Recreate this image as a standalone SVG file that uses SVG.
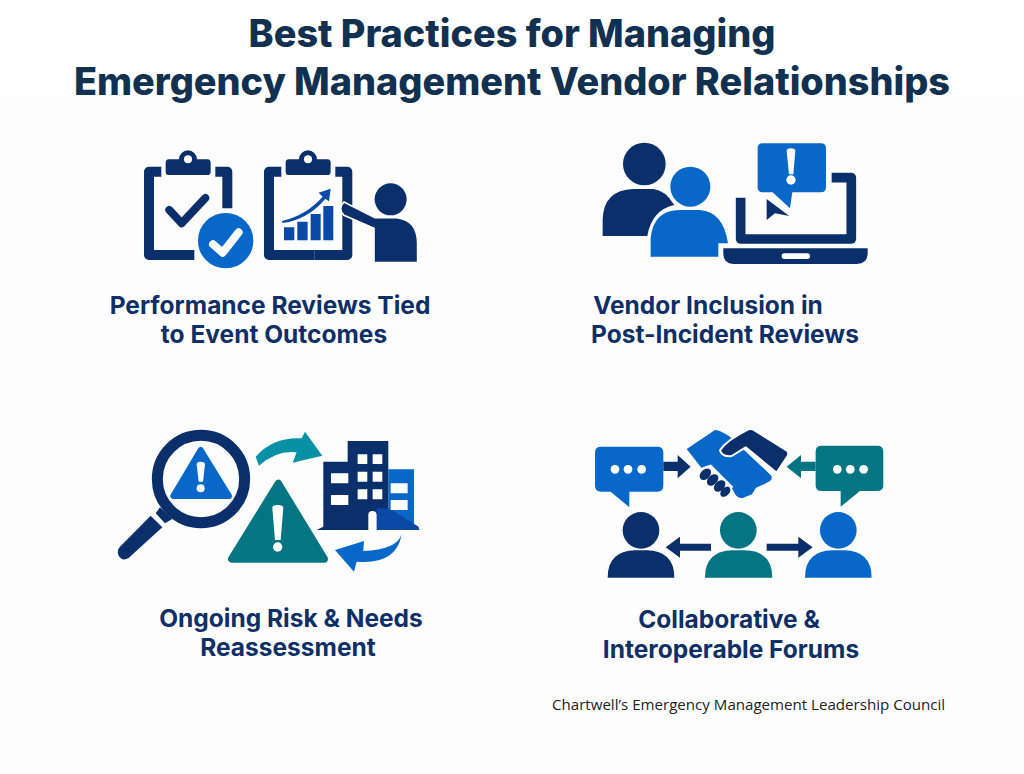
<svg xmlns="http://www.w3.org/2000/svg" width="1024" height="774" viewBox="0 0 1024 774">
<style>
.t{font-family:"Inter","Liberation Sans",sans-serif;font-weight:800;font-size:37.85px;fill:#12304f;text-anchor:middle}
.l{font-family:"Inter","Liberation Sans",sans-serif;font-weight:700;font-size:24.5px;fill:#0f2f66;text-anchor:middle}
.c{font-family:"Open Sans","Liberation Sans",sans-serif;font-size:15.1px;fill:#222;text-anchor:start}
.n{fill:#0b2f6b}.b{fill:#0868c9}.g{fill:#067583}.w{fill:#fff}
.sn{fill:none;stroke:#0b2f6b}
.k{fill:none;stroke-linecap:round;stroke-linejoin:round}
</style>
<defs>
<g id="clip">
<path class="sn" stroke-width="30" stroke-linejoin="round" d="M124,95H87V345H223"/>
<rect class="n" x="137" y="58" width="135" height="47" rx="10"/>
<circle class="n" cx="204" cy="58" r="27"/><circle class="w" cx="204" cy="58" r="12"/>
</g>
</defs>
<rect width="1024" height="774" fill="#fff"/>
<rect y="95" width="1024" height="679" fill="#fdfdfe"/>
<g id="title">
<text class="t" x="512" y="47">Best Practices for Managing</text>
<text class="t" x="512" y="95">Emergency Management Vendor Relationships</text>
</g>
<g id="performance-reviews">
<g transform="translate(120 140) scale(.3333)">
<use href="#clip"/>
<path class="sn" stroke-width="30" stroke-linejoin="round" d="M286,95H322V205"/>
<path class="k" stroke="#0b2f6b" stroke-width="24" d="M148,210L185,250L256,174"/>
<circle class="b" cx="317" cy="302" r="86" stroke="#fff" stroke-width="6"/>
<path class="k" stroke="#fff" stroke-width="24" d="M279,313L308,338L356,277"/>
<g transform="translate(360 0)"><use href="#clip"/>
<path class="sn" stroke-width="30" stroke-linejoin="round" d="M223,345H322V95H286"/></g>
<path fill="#0a4aa6" d="M492,262h31v39h-31zM532,245h31v56h-31zM572,222h30v79h-30zM610,198h30v103h-30z"/>
<path fill="#0a4aa6" d="M486,243Q560,225 608,170L596,158L632,146L627,184L616,176Q565,238 488,249Z"/>
<circle class="n" cx="812" cy="178" r="48"/>
<path class="n" stroke="#fff" stroke-width="5" d="M672,186L765,233H830Q893,240 893,310V368H762V265L672,226Q652,205 672,186Z"/>
</g>
<text class="l" x="270" y="314">Performance Reviews Tied</text>
<text class="l" x="274" y="343">to Event Outcomes</text>
</g>
<g id="vendor-inclusion">
<g transform="translate(590 135) scale(.3333)">
<circle class="n" cx="163" cy="87" r="64"/>
<path class="n" d="M38,303V255Q40,165 130,162H190Q225,165 253,210Q185,225 172,303Z"/>
<circle class="b" cx="301" cy="155" r="60"/>
<path class="b" d="M182,365V310Q190,225 270,225H330Q400,230 414,325H385V365Z"/>
<path class="sn" stroke-width="29" stroke-linejoin="round" d="M452,188V312H784V128H725"/>
<path class="n" d="M400,340H833V355Q833,387 800,387H430Q400,387 400,355Z"/>
<rect class="w" x="575" y="355" width="85" height="17" rx="8"/>
<path class="b" d="M518,25H693Q708,25 708,40V157Q708,172 693,172H607L600,220L548,172H518Q503,172 503,157V40Q503,25 518,25Z"/>
<path class="w" d="M590,48Q590,40 603,40Q616,40 616,48L610,118H597Z"/><circle class="w" cx="603" cy="135" r="14"/>
<path class="n" d="M530,192L598,243L555,235L530,255Z"/>
</g>
<text class="l" x="708" y="314">Vendor Inclusion in</text>
<text class="l" x="725" y="343">Post-Incident Reviews</text>
</g>
<g id="risk-reassessment">
<g transform="translate(110 425) scale(.3333)">
<circle cx="273" cy="162" r="131" fill="none" stroke="#0b2f6b" stroke-width="33"/>
<path class="n" d="M150,247L187,282L165,295L137,265Z"/>
<path class="n" d="M122,272L157,307L55,400Q35,410 25,390Q20,375 30,365Z"/>
<path class="b" stroke="#0868c9" stroke-width="18" stroke-linejoin="round" d="M272,75L190,213H357Z"/>
<path class="w" d="M260,118Q260,110 272,110Q285,110 285,118L279,170H266Z"/><circle class="w" cx="272" cy="190" r="12"/>
<path fill="#0891a6" d="M437,95Q490,35 575,40L585,20L637,92L548,113L560,82Q500,75 447,122Z"/>
<path class="g" stroke="#067583" stroke-width="22" stroke-linejoin="round" d="M505,175L365,402H643Z"/>
<path class="w" d="M487,248Q487,240 503,240Q520,240 520,248L512,345H495Z"/><circle class="w" cx="503" cy="366" r="14"/>
<path class="b" d="M835,133H912V300H835Z"/>
<path class="n" d="M713,48H835V250L925,305L928,315H620L640,305V110H713Z"/>
<path fill="#0a4aa6" d="M800,250H835L925,305L928,315H800Z"/>
<path class="w" d="M775,315V270Q775,258 787,258Q800,258 800,270V315Z"/>
<path class="w" d="M743,88h29v29h-29zM788,88h29v29h-29zM743,140h29v30h-29zM788,140h29v30h-29zM743,193h29v30h-29zM788,193h29v30h-29zM663,145h52v30h-52zM663,210h52v30h-52zM842,175h51v30h-51zM842,225h51v30h-51z"/>
<path class="b" d="M875,328Q860,375 760,378L762,348L675,375L732,440L740,410Q860,420 875,328Z"/>
</g>
<text class="l" x="291" y="627">Ongoing Risk &amp; Needs</text>
<text class="l" x="288" y="656">Reassessment</text>
</g>
<g id="collaborative-forums">
<g transform="translate(585 425) scale(.3333)">
<path class="b" d="M48,65H217Q235,65 235,83V182Q235,200 217,200H133V247L77,200H48Q30,200 30,182V83Q30,65 48,65Z"/>
<g class="w"><circle cx="90" cy="133" r="13"/><circle cx="129" cy="133" r="13"/><circle cx="170" cy="133" r="13"/></g>
<path class="g" d="M710,62H877Q895,62 895,80V180Q895,198 877,198H825L767,245V198H710Q692,198 692,180V80Q692,62 710,62Z"/>
<g class="w"><circle cx="757" cy="133" r="13"/><circle cx="796" cy="133" r="13"/><circle cx="836" cy="133" r="13"/></g>
<path class="n" d="M235,110H278V90L317,125L278,160V138H235Z"/>
<path class="g" d="M692,110H648V90L605,125L648,160V138H692Z"/>
<circle class="n" cx="168" cy="316" r="55"/><path class="n" d="M68,458Q68,378 150,376H186Q268,378 268,458Z"/>
<circle class="g" cx="460" cy="316" r="55"/><path class="g" d="M360,458Q360,378 442,376H480Q562,378 562,458Z"/>
<circle class="b" cx="760" cy="316" r="55"/><path class="b" d="M660,458Q660,378 742,376H778Q860,378 860,458Z"/>
<path class="n" d="M378,356H285V335L242,367L285,398V377H378Z"/>
<path class="n" d="M545,356H640V335L683,367L640,398V377H545Z"/>
</g>
<g transform="translate(680 425) scale(.3333)">
<path class="b" d="M20,72L105,15Q115,12 150,35L272,150Q280,160 270,168L252,178L228,188L216,208L190,218Q175,222 165,207L155,188L92,122L65,130Q50,110 20,72Z"/>
<path class="n" stroke="#fff" stroke-width="6" stroke-linejoin="round" d="M120,76Q140,45 205,13Q215,10 225,17L322,78Q328,85 322,95L290,143L197,67L155,93Q125,97 120,76Z"/>
<path fill="none" stroke="#fff" stroke-width="6" d="M62,132L92,122L158,188"/>
<g class="n">
<ellipse cx="76" cy="148" rx="14" ry="20" transform="rotate(45 76 148)"/>
<ellipse cx="98" cy="165" rx="14" ry="20" transform="rotate(45 98 165)"/>
<ellipse cx="119" cy="183" rx="14" ry="20" transform="rotate(45 119 183)"/>
<ellipse cx="136" cy="200" rx="12" ry="18" transform="rotate(45 136 200)"/>
</g>
</g>
<text class="l" x="729" y="628">Collaborative &amp;</text>
<text class="l" x="731" y="658">Interoperable Forums</text>
</g>
<text id="credit" class="c" x="552" y="710">Chartwell’s Emergency Management Leadership Council</text>
</svg>
